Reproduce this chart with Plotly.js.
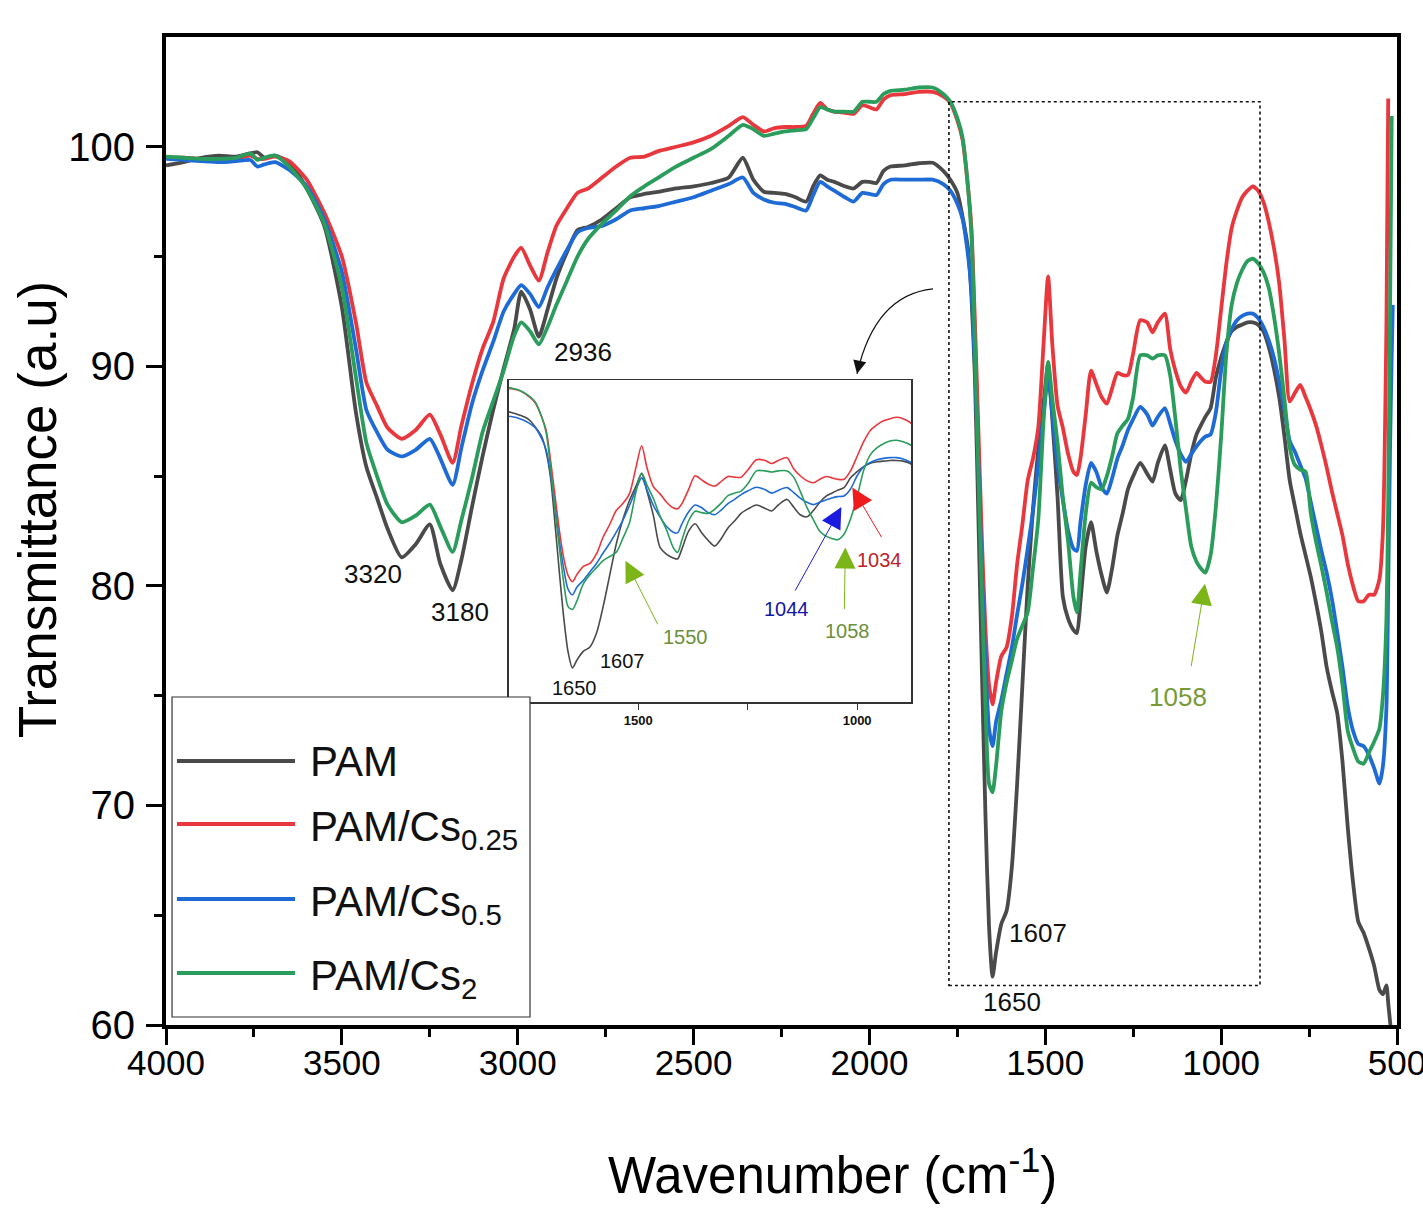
<!DOCTYPE html>
<html>
<head>
<meta charset="utf-8">
<script src="https://cdn.plot.ly/plotly-3.0.1.min.js"></script>
<style>
  html, body { margin: 0; padding: 0; background: #ffffff; }
  #chart { width: 1423px; height: 1211px; }
</style>
</head>
<body>
<div id="chart"></div>
<script>
// FTIR spectra of PAM and PAM/chitosan films
const wavenumber = [
  4000, 3950, 3900, 3850, 3800, 3760, 3740, 3720, 3690, 3650,
  3600, 3550, 3500, 3460, 3430, 3400, 3370, 3330, 3290, 3250,
  3220, 3185, 3160, 3130, 3100, 3070, 3040, 3010, 2990, 2965,
  2940, 2915, 2890, 2860, 2830, 2800, 2760, 2720, 2680, 2640,
  2600, 2550, 2500, 2450, 2400, 2360, 2330, 2300, 2270, 2240,
  2210, 2180, 2160, 2140, 2120, 2100, 2070, 2045, 2020, 2000,
  1980, 1960, 1940, 1900, 1860, 1820, 1790, 1770, 1750, 1735,
  1720, 1710, 1700, 1690, 1680, 1670, 1660, 1650, 1640, 1625,
  1610, 1595, 1580, 1565, 1550, 1535, 1520, 1505, 1492, 1480,
  1465, 1450, 1435, 1420, 1410, 1400, 1385, 1370, 1355, 1340,
  1325, 1310, 1295, 1280, 1265, 1250, 1230, 1210, 1195, 1180,
  1160, 1145, 1130, 1115, 1100, 1085, 1070, 1058, 1045, 1030,
  1015, 1000, 985, 970, 955, 940, 925, 910, 895, 880,
  865, 850, 835, 820, 805, 790, 775, 760, 745, 730,
  715, 700, 685, 670, 655, 640, 625, 610, 595, 580,
  565, 550, 540, 530, 525, 520, 515, 512
];

const pam = [
  99.15, 99.3, 99.5, 99.6, 99.55, 99.7, 99.75, 99.5, 99.6, 99.3,
  98.1, 96.4, 92.7, 87.9, 85.4, 84.0, 82.6, 81.3, 81.9, 82.8,
  81.0, 79.8, 81.2, 83.6, 85.9, 88.0, 89.9, 91.7, 93.4, 92.6,
  91.35, 92.6, 94.0, 95.2, 96.2, 96.35, 96.7, 97.2, 97.7, 97.85,
  97.95, 98.1, 98.2, 98.35, 98.6, 99.5, 98.5, 97.95, 97.9, 97.85,
  97.7, 97.5, 98.2, 98.7, 98.5, 98.4, 98.2, 98.1, 98.4, 98.4,
  98.35, 98.9, 99.1, 99.15, 99.25, 99.27, 98.9, 98.5, 97.9, 96.8,
  95.4, 93.2, 89.5, 83.0, 76.0, 69.5, 64.5, 62.2, 63.3, 64.6,
  65.2, 67.2, 71.0, 75.5, 80.0, 83.5, 86.2, 88.3, 90.1, 87.6,
  84.0, 79.5, 78.5, 78.0, 77.85, 79.3, 81.8, 82.9, 81.6, 80.5,
  79.7, 80.8, 82.3, 83.3, 84.4, 85.0, 85.6, 85.1, 84.75, 85.6,
  86.4, 85.3, 84.2, 83.9, 84.8, 86.0, 86.9, 87.3, 87.7, 88.1,
  89.5, 90.4, 91.1, 91.6, 91.8, 91.9, 92.0, 92.0, 91.9, 91.6,
  90.9, 89.9, 88.6, 86.8, 84.8, 83.6, 82.4, 81.4, 80.4, 79.2,
  77.9, 76.3, 75.2, 74.2, 72.0, 69.0, 66.5, 64.7, 64.2, 63.5,
  62.7, 61.6, 61.4, 61.8, 61.0, 60.2, 59.4, 58.5
];

const pamCs025 = [
  99.5, 99.5, 99.45, 99.4, 99.45, 99.6, 99.45, 99.45, 99.55, 99.35,
  98.5, 97.0, 95.0, 92.0, 89.25, 88.2, 87.2, 86.7, 87.1, 87.8,
  86.9, 85.6, 87.3, 89.2, 90.8, 92.0, 94.0, 95.0, 95.4, 94.6,
  93.9, 95.2, 96.4, 97.2, 97.9, 98.1, 98.6, 99.1, 99.5, 99.55,
  99.8, 100.0, 100.2, 100.5, 100.95, 101.35, 101.0, 100.7, 100.85, 100.9,
  100.9, 100.95, 101.5, 102.0, 101.7, 101.6, 101.55, 101.5, 101.9, 101.8,
  101.7, 102.15, 102.35, 102.4, 102.5, 102.5, 102.3, 102.0, 101.2, 100.3,
  98.2, 96.3, 92.0, 87.0, 82.0, 78.0, 75.5, 74.6, 75.6, 76.8,
  77.2, 78.6, 81.0, 82.8, 84.8, 85.8, 87.2, 91.0, 94.1, 91.0,
  88.2, 87.2, 86.0, 85.2, 85.05, 85.8, 87.8, 89.8, 89.2, 88.6,
  88.3, 89.0, 89.7, 89.6, 89.6, 90.6, 92.1, 92.0, 91.55, 92.0,
  92.4, 90.8, 89.8, 89.1, 88.8, 89.3, 89.7, 89.5, 89.3, 89.3,
  90.5, 92.6, 94.7, 96.3, 97.1, 97.7, 98.0, 98.2, 98.0, 97.5,
  96.6, 95.4, 93.8, 91.2, 88.4, 88.8, 89.15, 88.6, 88.0, 87.3,
  86.4, 85.4, 84.3, 83.3, 82.3, 81.0, 80.0, 79.3, 79.3, 79.6,
  79.6, 80.3, 82.5, 92.0, 102.2, null, null, null
];

const pamCs05 = [
  99.45, 99.4, 99.35, 99.3, 99.35, 99.4, 99.1, 99.2, 99.3, 98.95,
  98.2, 96.7, 94.3, 90.8, 88.0, 87.0, 86.2, 85.9, 86.2, 86.7,
  85.8, 84.6, 86.3, 88.3, 89.8, 91.1, 92.5, 93.3, 93.7, 93.3,
  92.7, 93.6, 94.4, 95.3, 96.1, 96.3, 96.4, 96.7, 97.1, 97.2,
  97.3, 97.5, 97.7, 98.0, 98.3, 98.6, 97.9, 97.6, 97.45, 97.4,
  97.25, 97.1, 97.8, 98.4, 98.2, 98.0, 97.7, 97.5, 97.9, 97.85,
  97.8, 98.3, 98.5, 98.5, 98.5, 98.5, 98.3, 98.0, 97.4, 96.7,
  95.1, 93.5, 90.0, 85.5, 80.5, 76.5, 73.5, 72.7, 73.8, 74.8,
  76.0, 77.2, 78.7, 80.1, 81.7, 83.4, 85.5, 87.8, 89.5, 87.8,
  85.5, 83.9, 82.5, 81.7, 81.6, 82.9, 84.6, 85.6, 85.2, 84.5,
  84.2, 84.9, 85.8, 86.4, 87.1, 87.6, 88.15, 87.8, 87.3, 87.7,
  88.1, 87.4, 86.6, 86.0, 85.65, 86.0, 86.35, 86.6, 86.8, 86.9,
  87.9, 89.8, 91.1, 91.7, 92.1, 92.3, 92.4, 92.4, 92.2, 91.8,
  91.2, 90.4, 89.3, 88.0, 86.6, 86.1, 85.5, 84.9, 83.8, 82.7,
  81.6, 80.6, 79.4, 77.9, 76.3, 74.5, 73.4, 72.8, 72.7, 72.3,
  71.7, 71.0, 71.8, 74.5, 80.0, 86.0, 90.5, 92.8
];

const pamCs2 = [
  99.55, 99.5, 99.45, 99.45, 99.5, 99.7, 99.4, 99.5, 99.6, 99.1,
  98.1, 96.5, 93.6, 89.5, 86.5, 85.0, 83.7, 82.9, 83.2, 83.7,
  82.7, 81.55, 83.0, 84.9, 87.0, 88.4, 89.8, 91.4, 92.0, 91.6,
  91.0, 91.8, 92.8, 93.9, 95.0, 95.8, 96.5, 97.1, 97.75, 98.2,
  98.6, 99.1, 99.5, 99.9, 100.5, 101.0, 100.8, 100.5, 100.6, 100.7,
  100.75, 100.8, 101.3, 101.8, 101.7, 101.6, 101.6, 101.6, 102.05, 102.05,
  102.05, 102.4, 102.55, 102.6, 102.7, 102.7, 102.4, 102.05, 101.3, 100.4,
  98.2, 96.0, 91.0, 85.0, 79.5, 74.5, 71.0, 70.6, 71.8, 74.3,
  75.6, 76.6, 77.6, 78.2, 78.8, 80.8, 83.0, 87.5, 90.2, 88.5,
  86.5, 84.0, 82.0, 79.5, 78.8, 80.6, 83.3, 84.7, 84.5, 84.4,
  85.0, 85.9, 86.95, 87.3, 87.6, 88.6, 90.5, 90.5, 90.35, 90.5,
  90.5, 89.6, 87.6, 85.3, 83.5, 81.8, 81.1, 80.8, 80.6, 81.4,
  83.6, 86.8, 90.6, 92.8, 93.8, 94.4, 94.8, 94.9, 94.7, 94.3,
  93.6, 92.3, 90.6, 88.5, 86.3, 85.5, 85.3, 85.2, 83.3, 82.0,
  80.9, 79.7, 78.4, 77.2, 75.5, 73.4, 72.6, 72.0, 71.9, 72.4,
  72.9, 73.5, 75.0, 78.5, 84.0, 92.0, 101.4, null
];

const seriesNames = ['PAM', 'PAM/Cs<sub>0.25</sub>', 'PAM/Cs<sub>0.5</sub>', 'PAM/Cs<sub>2</sub>'];
const seriesValues = [pam, pamCs025, pamCs05, pamCs2];
const seriesColors = ['#4a4a4a', '#e8383d', '#1e6bd6', '#2a9d5c'];

// Band labels on the main spectrum
const mainBands = [
  { text: '3320', x: 3411, y: 80.55 },
  { text: '3180', x: 3164, y: 78.8 },
  { text: '2936', x: 2814, y: 90.66 },
  { text: '1607', x: 1521, y: 64.2 },
  { text: '1650', x: 1595, y: 61.05 }
];

// Band labels inside the zoomed view (1795–877 cm-1)
const insetBands = [
  { text: '1650', x: 1645, y: 59.3, color: '#111111' },
  { text: '1607', x: 1536, y: 63.2, color: '#111111' },
  { text: '1550', x: 1391, y: 66.65, color: '#6b8f3a' },
  { text: '1044', x: 1161, y: 70.7, color: '#1414a8' },
  { text: '1058', x: 1023, y: 67.5, color: '#6b8f3a' },
  { text: '1034', x: 948, y: 77.7, color: '#c0222a' }
];

// Arrows inside the zoomed view: head position plus tail offset in px
const insetArrows = [
  { x: 1529, y: 77.6, ax: 33, ay: 65, color: '#7cb518' },
  { x: 1036, y: 85.3, ax: -47, ay: 85, color: '#1a1ae0' },
  { x: 1027, y: 79.5, ax: -1, ay: 63, color: '#7cb518' },
  { x: 1011, y: 88.1, ax: 30, ay: 51, color: '#ee1c1c' }
];

const FONT = 'Liberation Sans, Arial, Helvetica, sans-serif';

const traces = [];
seriesValues.forEach((vals, i) => {
  traces.push({
    x: wavenumber, y: vals, type: 'scatter', mode: 'lines', name: seriesNames[i],
    line: { color: seriesColors[i], width: 3.8, shape: 'spline', smoothing: 0.6 },
    xaxis: 'x', yaxis: 'y', showlegend: false, connectgaps: false, hoverinfo: 'skip'
  });
});
seriesValues.forEach((vals, i) => {
  traces.push({
    x: wavenumber, y: vals, type: 'scatter', mode: 'lines', name: seriesNames[i],
    line: { color: seriesColors[i], width: 1.6, shape: 'spline', smoothing: 0.8 },
    xaxis: 'x2', yaxis: 'y2', showlegend: false, connectgaps: false, hoverinfo: 'skip'
  });
});

const annotations = [];
const shapes = [];

mainBands.forEach(b => annotations.push({
  xref: 'x', yref: 'y', x: b.x, y: b.y, text: b.text, showarrow: false,
  font: { family: FONT, size: 26, color: '#111111' }
}));

// 1058 band on the main spectrum
annotations.push({
  xref: 'x', yref: 'y', x: 1123, y: 74.94, text: '1058', showarrow: false,
  font: { family: FONT, size: 26, color: '#779a35' }
});
annotations.push({
  xref: 'x', yref: 'y', x: 1046, y: 80.1, ax: -14, ay: 84, text: '', showarrow: true,
  arrowhead: 2, arrowsize: 4.2, arrowwidth: 1, arrowcolor: '#7cb518'
});

insetBands.forEach(b => annotations.push({
  xref: 'x2', yref: 'y2', x: b.x, y: b.y, text: b.text, showarrow: false,
  font: { family: FONT, size: 20, color: b.color }
}));
insetArrows.forEach(a => annotations.push({
  xref: 'x2', yref: 'y2', x: a.x, y: a.y, ax: a.ax, ay: a.ay, text: '', showarrow: true,
  arrowhead: 2, arrowsize: 4.2, arrowwidth: 1, arrowcolor: a.color
}));

// Dotted frame marking the zoomed region
shapes.push({
  type: 'rect', xref: 'x', yref: 'y', x0: 1774, x1: 889.5, y0: 61.8, y1: 102.05,
  line: { color: '#111111', width: 1.6, dash: 'dot' }, fillcolor: 'rgba(0,0,0,0)'
});

// Curved pointer from the frame to the zoomed view
shapes.push({
  type: 'path', xref: 'x', yref: 'y',
  path: 'M 1819.2 93.53 Q 1984.1 93.26 2035.3 89.66',
  line: { color: '#111111', width: 1.2 }
});
annotations.push({
  xref: 'x', yref: 'y', x: 2035.3, y: 89.66, ax: 3, ay: -14, text: '', showarrow: true,
  arrowhead: 2, arrowsize: 2.2, arrowwidth: 1.2, arrowcolor: '#111111'
});

// Legend drawn as a framed box
shapes.push({
  type: 'rect', xref: 'paper', yref: 'paper', x0: 0.0049, x1: 0.2957, y0: 0.0081, y1: 0.332,
  line: { color: '#333333', width: 1.2 }, fillcolor: '#ffffff', layer: 'above'
});
const legendRows = [0.2672, 0.2034, 0.1275, 0.0526];
seriesNames.forEach((name, i) => {
  shapes.push({
    type: 'line', xref: 'paper', yref: 'paper', x0: 0.0089, x1: 0.1048,
    y0: legendRows[i], y1: legendRows[i],
    line: { color: seriesColors[i], width: 4 }, layer: 'above'
  });
  annotations.push({
    xref: 'paper', yref: 'paper', x: 0.1154, y: legendRows[i], xanchor: 'left',
    yanchor: i === 0 ? 'middle' : 'top', yshift: i === 0 ? 0 : 23,
    text: name, showarrow: false, font: { family: FONT, size: 42, color: '#111111' }
  });
});

// Axis titles
annotations.push({
  xref: 'paper', yref: 'paper', x: 0.5418, y: -0.1488, xanchor: 'center', yanchor: 'middle',
  text: 'Wavenumber (cm<sup>-1</sup>)',
  showarrow: false, font: { family: FONT, size: 51, color: '#000000' }
});
annotations.push({
  xref: 'paper', yref: 'paper', x: -0.1048, y: 0.522, xanchor: 'center', yanchor: 'middle',
  text: 'Transmittance (a.u)', textangle: -90,
  showarrow: false, font: { family: FONT, size: 53, color: '#000000' }
});

const layout = {
  width: 1423, height: 1211,
  margin: { l: 166, r: 26, t: 37, b: 186 },
  paper_bgcolor: '#ffffff', plot_bgcolor: '#ffffff',
  showlegend: false,
  xaxis: {
    domain: [0, 1], range: [4000, 500], showgrid: false, zeroline: false,
    showline: true, mirror: true, linecolor: '#000000', linewidth: 4,
    ticks: 'outside', ticklen: 16, tickwidth: 3, tickcolor: '#000000',
    dtick: 500, tick0: 500, ticklabeloverflow: 'allow',
    minor: { dtick: 250, ticks: 'outside', ticklen: 8, tickwidth: 3, tickcolor: '#000000', showgrid: false },
    tickfont: { family: FONT, size: 35, color: '#000000' }, ticklabelstandoff: -12
  },
  yaxis: {
    domain: [0, 1], range: [60, 105], showgrid: false, zeroline: false,
    showline: true, mirror: true, linecolor: '#000000', linewidth: 4,
    ticks: 'outside', ticklen: 16, tickwidth: 3, tickcolor: '#000000',
    tickvals: [60, 70, 80, 90, 100], ticklabeloverflow: 'allow',
    minor: { tickvals: [65, 75, 85, 95], ticks: 'outside', ticklen: 8, tickwidth: 3, tickcolor: '#000000', showgrid: false },
    tickfont: { family: FONT, size: 40, color: '#000000' }, ticklabelstandoff: 3
  },
  xaxis2: {
    domain: [0.2786, 0.6052], anchor: 'y2', range: [1795, 877], showgrid: false, zeroline: false,
    showline: true, mirror: true, linecolor: '#333333', linewidth: 1.5,
    ticks: 'outside', ticklen: 6, tickwidth: 1, tickcolor: '#333333',
    tickvals: [1750, 1500, 1250, 1000], ticktext: ['', '1500', '', '1000'],
    tickfont: { family: FONT, size: 13, color: '#111111', weight: 'bold' }
  },
  yaxis2: {
    domain: [0.3269, 0.6528], anchor: 'x2', range: [57.3, 103.55], showgrid: false, zeroline: false,
    showline: true, mirror: true, linecolor: '#333333', linewidth: 1.5,
    ticks: '', showticklabels: false
  },
  annotations: annotations,
  shapes: shapes
};

Plotly.newPlot('chart', traces, layout, { displayModeBar: false, staticPlot: true });
</script>
</body>
</html>
